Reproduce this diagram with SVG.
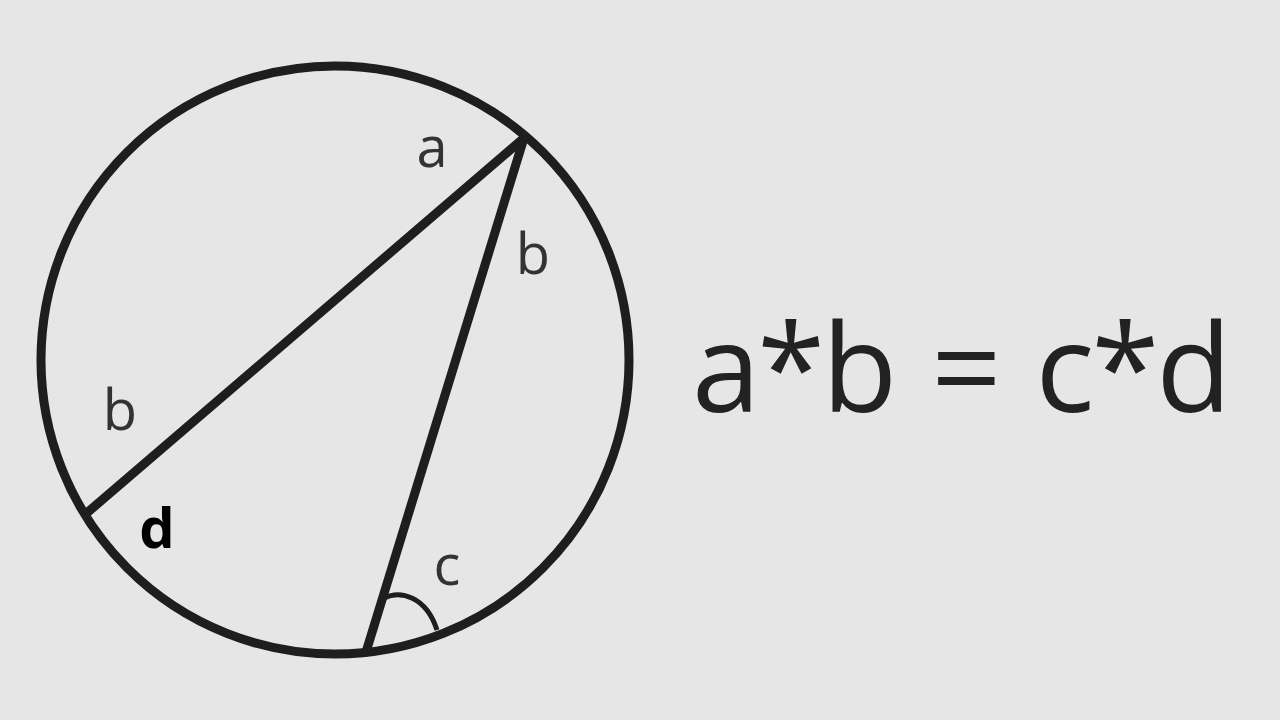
<svg xmlns="http://www.w3.org/2000/svg" width="1280" height="720" viewBox="0 0 1280 720">
<style>
.ln{fill:none;stroke:#1e1e1e;stroke-width:9;stroke-linecap:round}
.lbl{font-family:"Open Sans","DejaVu Sans",sans-serif;font-size:56px;fill:#333}
.eq{font-family:"Open Sans","DejaVu Sans",sans-serif;font-size:123px;fill:#222;letter-spacing:-3px;word-spacing:8px}
</style>
<rect width="1280" height="720" fill="#e6e6e6"/>
<g id="circle"><circle cx="335" cy="360" r="294" class="ln"/></g>
<g id="connectors">
<line x1="524" y1="138" x2="88" y2="512" class="ln"/>
<line x1="524" y1="138" x2="366" y2="652" class="ln"/>
<path d="M384 598 C400 590 426 596 437 630" fill="none" stroke="#1e1e1e" stroke-width="5"/>
</g>
<g id="labels">
<text x="432" y="167" class="lbl" text-anchor="middle">a</text>
<text x="533" y="274" class="lbl" text-anchor="middle">b</text>
<text x="120" y="430" class="lbl" text-anchor="middle">b</text>
<text x="157" y="548" class="lbl" text-anchor="middle" style="font-weight:bold;fill:#000">d</text>
<text x="447" y="585" class="lbl" text-anchor="middle">c</text>
</g>
<g id="equation"><text x="692" y="412" class="eq">a*b = c*d</text></g>
</svg>
